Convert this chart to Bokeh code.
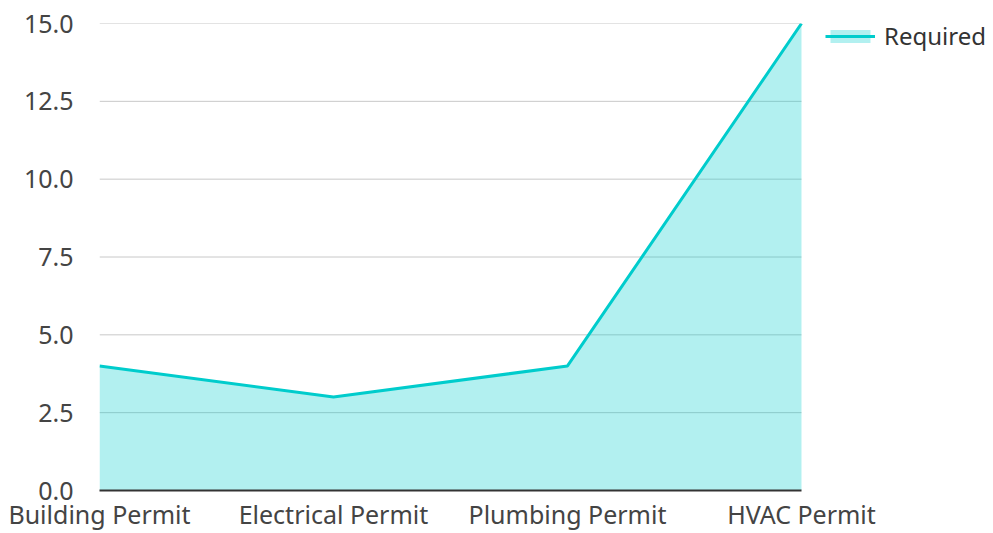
from bokeh.plotting import figure
from bokeh.models import Range1d, FixedTicker, Legend, LegendItem, ColumnDataSource
from bokeh.embed import file_html
from bokeh.resources import INLINE

categories = ["Building Permit", "Electrical Permit", "Plumbing Permit", "HVAC Permit"]
required = [4, 3, 4, 15]
y_ticks = [0, 2.5, 5, 7.5, 10, 12.5, 15]

xs = list(range(len(categories)))
src = ColumnDataSource(dict(x=xs, y=required, y0=[0] * len(xs)))

FONT = "Noto Sans"
LINE = "#00CCCC"
FS = "25px"

W, H = 993, 533
LEFT, TOP, BOTTOM = 99, 23, 43
DATA_W = 702  # pixel width of the category span
x_last = len(categories) - 1
x_end = x_last * (W - LEFT) / DATA_W

p = figure(width=W, height=H, output_backend="svg", toolbar_location=None,
           x_range=Range1d(0, x_end), y_range=Range1d(0, 15),
           min_border_left=LEFT, min_border_top=TOP, min_border_bottom=BOTTOM, min_border_right=0)
p.outline_line_color = None
p.background_fill_color = "white"

# horizontal grid lines limited to the category span
grid_src = ColumnDataSource(dict(y=[t for t in y_ticks if t > 0]))
p.segment(x0=0, x1=x_last, y0="y", y1="y", source=grid_src,
          line_color="#c8c8c8", line_width=1, level="underlay")

area = p.varea(x="x", y1="y0", y2="y", source=src, fill_color=LINE, fill_alpha=0.3)
line = p.line(x="x", y="y", source=src, line_color=LINE, line_width=3)

p.xaxis.ticker = FixedTicker(ticks=xs)
p.xaxis.major_label_overrides = {i: c for i, c in enumerate(categories)}
p.xaxis.bounds = (0, x_last)
p.yaxis.ticker = FixedTicker(ticks=y_ticks)
p.yaxis.major_label_overrides = {t: f"{t:.1f}" for t in y_ticks}

for ax in (p.xaxis[0], p.yaxis[0]):
    ax.major_tick_line_color = None
    ax.minor_tick_line_color = None
    ax.major_tick_out = 0
    ax.major_tick_in = 0
    ax.minor_tick_out = 0
    ax.minor_tick_in = 0
    ax.major_label_text_font = FONT
    ax.major_label_text_font_size = FS
    ax.major_label_text_color = "#444444"
p.yaxis.axis_line_color = None
p.yaxis.major_label_standoff = 26
p.xaxis.axis_line_color = "#333333"
p.xaxis.axis_line_width = 2
p.xaxis.major_label_standoff = 6

p.xgrid.grid_line_color = None
p.ygrid.grid_line_color = None

legend = Legend(items=[LegendItem(label="Required", renderers=[area, line])],
                location=(726, 438), border_line_color=None, background_fill_alpha=0,
                label_text_font=FONT, label_text_font_size="24px", label_text_color="#333333",
                glyph_width=50, glyph_height=16, margin=0, padding=0, label_standoff=9)
p.add_layout(legend)

open("out.html", "w").write(file_html(p, INLINE))
